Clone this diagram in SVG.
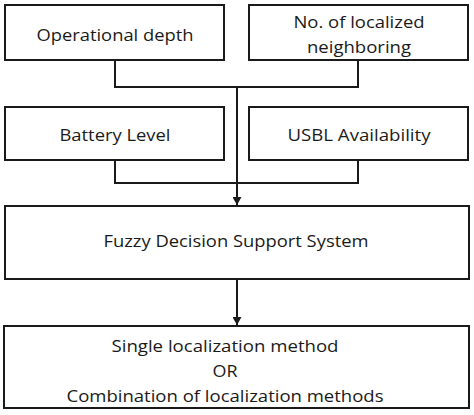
<svg xmlns="http://www.w3.org/2000/svg" width="474" height="415" viewBox="0 0 474 415">
<style>
.box{fill:#fff;stroke:#1a1a1a;stroke-width:2}
.ln{fill:none;stroke:#1a1a1a;stroke-width:2}
text{font-family:"Open Sans","Noto Sans","Liberation Sans",sans-serif;font-size:16px;fill:#1a1a1a;text-anchor:middle}
</style>
<defs>
<marker id="ah" markerUnits="userSpaceOnUse" markerWidth="9" markerHeight="9" refX="8" refY="4.5" orient="auto">
<path d="M0,0 L8,4.5 L0,9 Z" fill="#1a1a1a"/>
</marker>
</defs>
<rect width="474" height="415" fill="#fff"/>
<g id="connectors">
<path class="ln" d="M115,60 V87 H358 V60"/>
<path class="ln" d="M115,160 V183 H358 V160"/>
<path class="ln" d="M237,87 V205" marker-end="url(#ah)"/>
<path class="ln" d="M237,279 V325" marker-end="url(#ah)"/>
</g>
<g id="n1"><rect class="box" x="5" y="5" width="219" height="55"/><text x="115" y="41" textLength="157" lengthAdjust="spacingAndGlyphs">Operational depth</text></g>
<g id="n2"><rect class="box" x="249" y="5" width="219" height="55"/><text x="359" y="28" textLength="131" lengthAdjust="spacingAndGlyphs">No. of localized</text><text x="359" y="53" textLength="104" lengthAdjust="spacingAndGlyphs">neighboring</text></g>
<g id="n3"><rect class="box" x="5" y="107" width="219" height="53"/><text x="115" y="141" textLength="111" lengthAdjust="spacingAndGlyphs">Battery Level</text></g>
<g id="n4"><rect class="box" x="249" y="107" width="219" height="53"/><text x="359" y="141" textLength="143" lengthAdjust="spacingAndGlyphs">USBL Availability</text></g>
<g id="n5"><rect class="box" x="5" y="206" width="464" height="73"/><text x="236" y="247" textLength="265" lengthAdjust="spacingAndGlyphs">Fuzzy Decision Support System</text></g>
<g id="n6"><rect class="box" x="4" y="326" width="465" height="82"/><text x="225" y="352" textLength="227" lengthAdjust="spacingAndGlyphs">Single localization method</text><text x="225" y="377" textLength="25" lengthAdjust="spacingAndGlyphs">OR</text><text x="225" y="402" textLength="317" lengthAdjust="spacingAndGlyphs">Combination of localization methods</text></g>
</svg>
